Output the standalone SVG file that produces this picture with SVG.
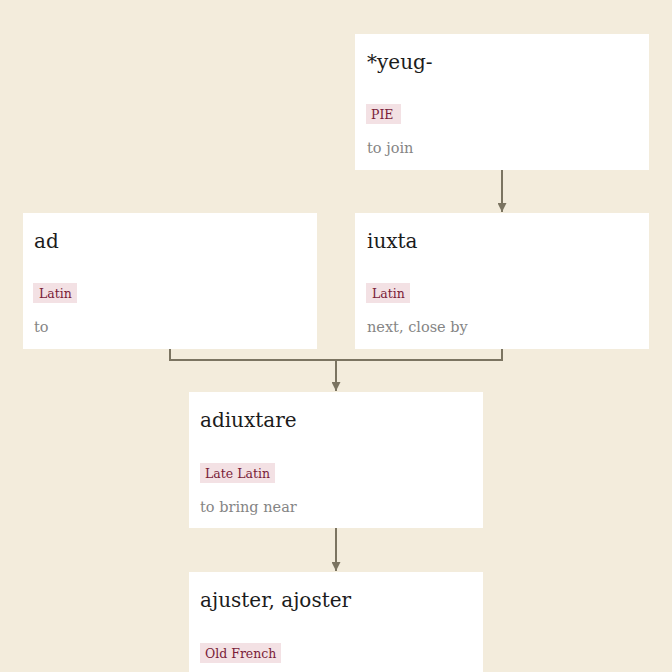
<svg xmlns="http://www.w3.org/2000/svg" width="672" height="672" viewBox="0 0 672 672">
<defs>
<style>
.box{fill:#ffffff;}
.title{font-family:"DejaVu Serif","Liberation Serif",serif;font-size:20px;fill:#1c1c1c;}
.badge{fill:#f3e1e4;}
.btxt{font-family:"DejaVu Serif","Liberation Serif",serif;font-size:12.5px;fill:#7a1c38;}
.gloss{font-family:"DejaVu Serif","Liberation Serif",serif;font-size:14.5px;fill:#858585;}
.edge{fill:none;stroke:#7b7461;stroke-width:2;}
</style>
<marker id="arr" viewBox="0 0 10 10" refX="10" refY="5" markerWidth="4.5" markerHeight="4.5" orient="auto" markerUnits="strokeWidth">
<path d="M0,0 L10,5 L0,10 Z" fill="#7b7461"/>
</marker>
</defs>
<rect width="672" height="672" fill="#f3ecdc"/>
<g id="connectors">
<path class="edge" d="M502,170 V212" marker-end="url(#arr)"/>
<path class="edge" d="M170,349 V360 H502 V349"/>
<path class="edge" d="M336,360 V391" marker-end="url(#arr)"/>
<path class="edge" d="M336,528 V571" marker-end="url(#arr)"/>
</g>
<g id="node-yeug">
<rect class="box" x="355" y="34" width="294" height="136"/>
<text class="title" x="367" y="69">*yeug-</text>
<rect class="badge" x="366" y="104" width="35" height="20"/>
<text class="btxt" x="371" y="119">PIE</text>
<text class="gloss" x="367" y="153">to join</text>
</g>
<g id="node-ad">
<rect class="box" x="23" y="213" width="294" height="136"/>
<text class="title" x="34" y="248">ad</text>
<rect class="badge" x="33" y="283" width="44" height="20"/>
<text class="btxt" x="39" y="298">Latin</text>
<text class="gloss" x="34" y="332">to</text>
</g>
<g id="node-iuxta">
<rect class="box" x="355" y="213" width="294" height="136"/>
<text class="title" x="367" y="248">iuxta</text>
<rect class="badge" x="366" y="283" width="44" height="20"/>
<text class="btxt" x="372" y="298">Latin</text>
<text class="gloss" x="367" y="332">next, close by</text>
</g>
<g id="node-adiuxtare">
<rect class="box" x="189" y="392" width="294" height="136"/>
<text class="title" x="200" y="427">adiuxtare</text>
<rect class="badge" x="200" y="463" width="75" height="20"/>
<text class="btxt" x="205" y="478">Late Latin</text>
<text class="gloss" x="200" y="512">to bring near</text>
</g>
<g id="node-ajuster">
<rect class="box" x="189" y="572" width="294" height="136"/>
<text class="title" x="200" y="607">ajuster, ajoster</text>
<rect class="badge" x="200" y="643" width="81" height="20"/>
<text class="btxt" x="205" y="658">Old French</text>
</g>
</svg>
